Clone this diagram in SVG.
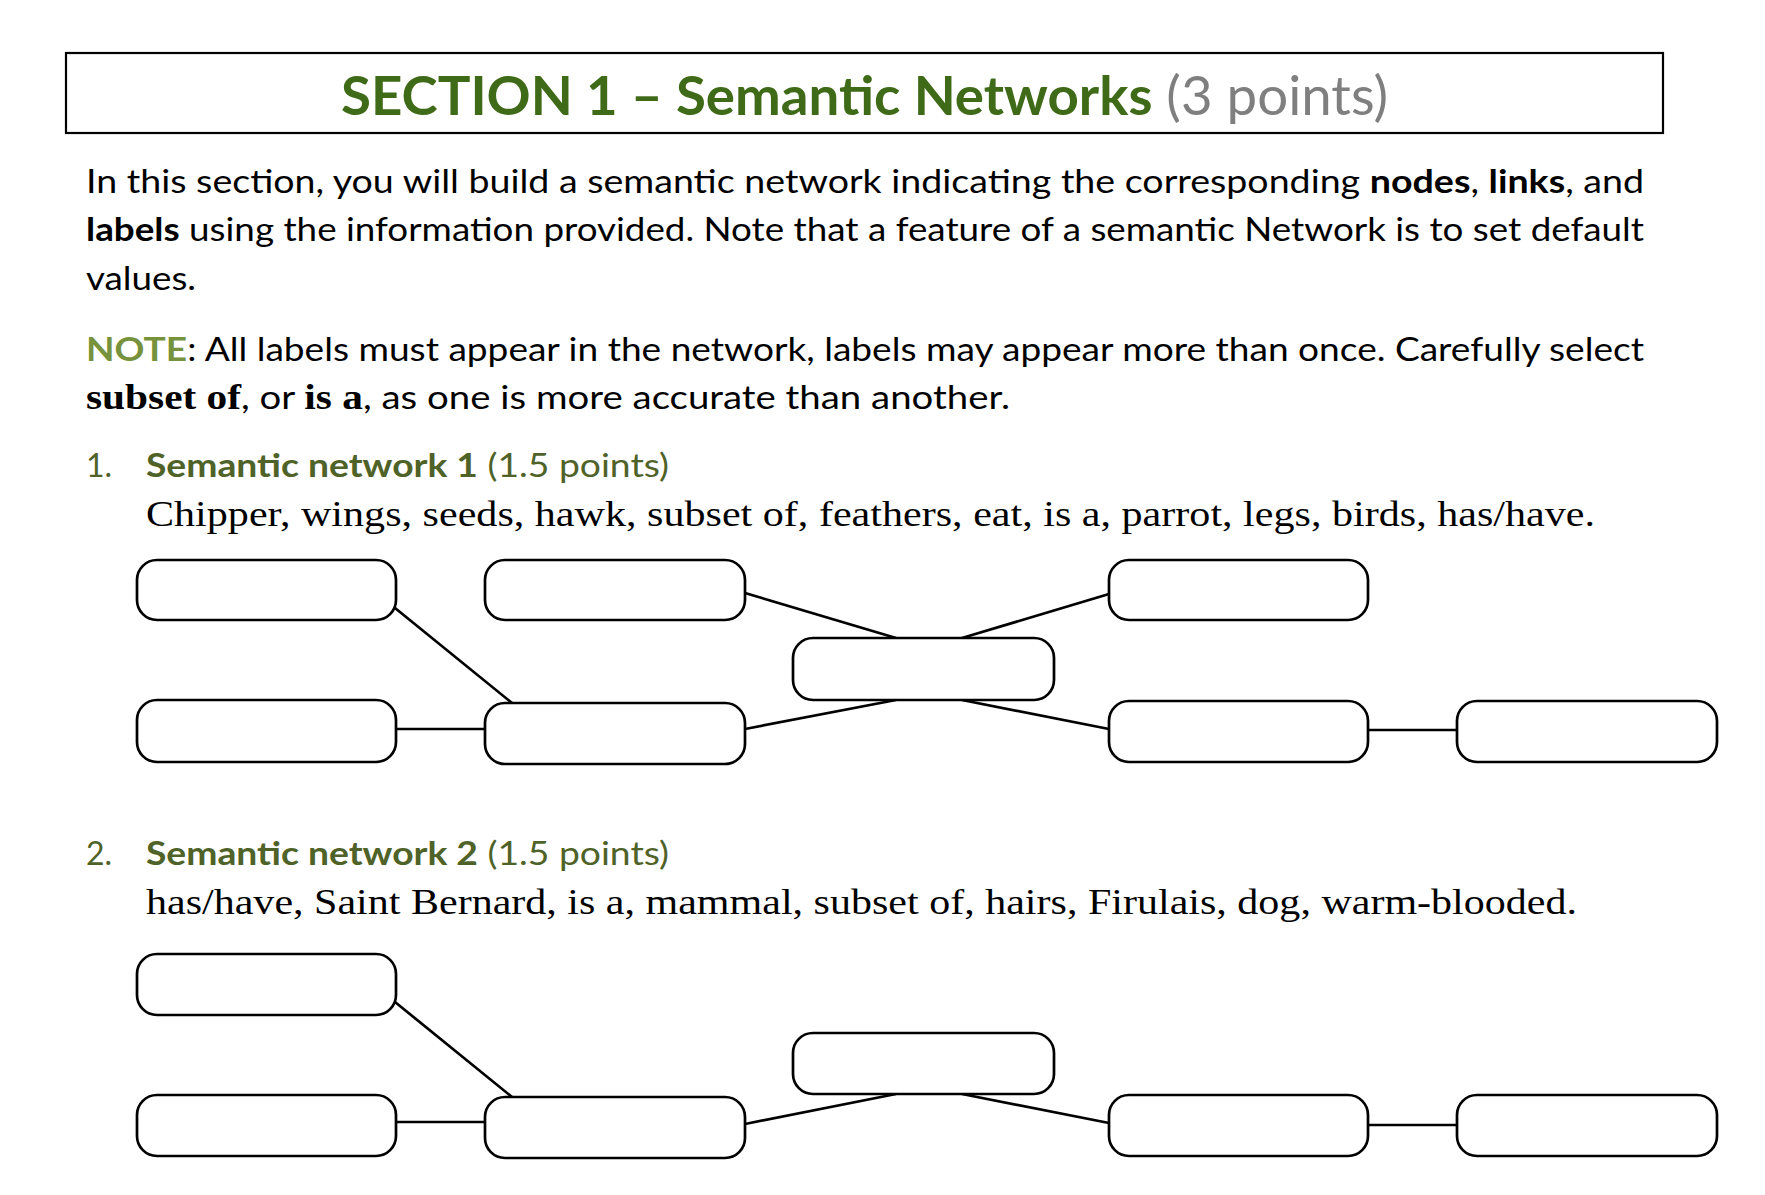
<svg xmlns="http://www.w3.org/2000/svg" width="1765" height="1195" viewBox="0 0 1765 1195">
<style>
.bg{fill:#ffffff}
.box{fill:#ffffff;stroke:#000;stroke-width:2.7}
.frame{fill:none;stroke:#000;stroke-width:2.2}
.ln{stroke:#000;stroke-width:2.7;fill:none}
.sans{font-family:Lato,"Liberation Sans",sans-serif;fill:#000}
.serif{font-family:"Liberation Serif",serif;fill:#000}
.b{font-weight:bold}
.title{font-family:Lato,"Liberation Sans",sans-serif;font-size:54px}
.tg{fill:#3F6A17;font-weight:bold}
.tgr{fill:#7F7F7F}
.note{fill:#76923C;font-weight:bold}
.hd{font-family:Lato,"Liberation Sans",sans-serif;font-size:32px;fill:#4F6228}
</style>
<rect class="bg" x="0" y="0" width="1765" height="1195"/>
<g id="header">
<rect class="frame" x="66" y="53" width="1597" height="80"/>
<text class="title" x="341" y="115" textLength="1047" lengthAdjust="spacingAndGlyphs"><tspan class="tg">SECTION 1 – Semantic Networks</tspan><tspan class="tgr"> (3 points)</tspan></text>
</g>
<g id="intro">
<text class="sans" x="86" y="193" font-size="32.5" textLength="1558" lengthAdjust="spacingAndGlyphs">In this section, you will build a semantic network indicating the corresponding <tspan class="b">nodes</tspan>, <tspan class="b">links</tspan>, and</text>
<text class="sans" x="86" y="241" font-size="32.5" textLength="1558" lengthAdjust="spacingAndGlyphs"><tspan class="b">labels</tspan> using the information provided. Note that a feature of a semantic Network is to set default</text>
<text class="sans" x="86" y="290" font-size="32.5" textLength="110" lengthAdjust="spacingAndGlyphs">values.</text>
<text class="sans" x="86" y="361" font-size="32.5" textLength="1558" lengthAdjust="spacingAndGlyphs"><tspan class="note">NOTE</tspan>: All labels must appear in the network, labels may appear more than once. Carefully select</text>
<text class="sans" x="86" y="409" font-size="32.5" textLength="924" lengthAdjust="spacingAndGlyphs"><tspan class="b" font-family="Liberation Serif, serif" font-size="35">subset of</tspan>, or <tspan class="b" font-family="Liberation Serif, serif" font-size="35">is a</tspan>, as one is more accurate than another.</text>
</g>
<g id="heading1">
<text class="hd" x="86" y="477">1.</text>
<text class="hd" x="146" y="477" textLength="523" lengthAdjust="spacingAndGlyphs"><tspan class="b">Semantic network 1</tspan> (1.5 points)</text>
<text class="serif" x="146" y="526" font-size="36" textLength="1449" lengthAdjust="spacingAndGlyphs">Chipper, wings, seeds, hawk, subset of, feathers, eat, is a, parrot, legs, birds, has/have.</text>
</g>
<g id="heading2">
<text class="hd" x="86" y="865">2.</text>
<text class="hd" x="146" y="865" textLength="523" lengthAdjust="spacingAndGlyphs"><tspan class="b">Semantic network 2</tspan> (1.5 points)</text>
<text class="serif" x="146" y="914" font-size="36" textLength="1431" lengthAdjust="spacingAndGlyphs">has/have, Saint Bernard, is a, mammal, subset of, hairs, Firulais, dog, warm-blooded.</text>
</g>
<g id="connectors">
<line class="ln" x1="395" y1="608" x2="512" y2="703"/>
<line class="ln" x1="396" y1="729" x2="485" y2="729"/>
<line class="ln" x1="745" y1="593" x2="896" y2="638"/>
<line class="ln" x1="745" y1="729" x2="896" y2="700"/>
<line class="ln" x1="962" y1="638" x2="1109" y2="594"/>
<line class="ln" x1="962" y1="700" x2="1109" y2="729"/>
<line class="ln" x1="1368" y1="730" x2="1457" y2="730"/>
<line class="ln" x1="395" y1="1002" x2="512" y2="1097"/>
<line class="ln" x1="396" y1="1122" x2="485" y2="1122"/>
<line class="ln" x1="745" y1="1124" x2="896" y2="1094"/>
<line class="ln" x1="962" y1="1094" x2="1109" y2="1123"/>
<line class="ln" x1="1368" y1="1125" x2="1457" y2="1125"/>
</g>
<g id="n1-a"><rect class="box" x="137" y="560" width="259" height="60" rx="20"/></g>
<g id="n1-b"><rect class="box" x="485" y="560" width="260" height="60" rx="20"/></g>
<g id="n1-e"><rect class="box" x="1109" y="560" width="259" height="60" rx="20"/></g>
<g id="n1-c"><rect class="box" x="793" y="638" width="261" height="62" rx="20"/></g>
<g id="n1-d"><rect class="box" x="137" y="700" width="259" height="62" rx="20"/></g>
<g id="n1-f"><rect class="box" x="485" y="703" width="260" height="61" rx="20"/></g>
<g id="n1-g"><rect class="box" x="1109" y="701" width="259" height="61" rx="20"/></g>
<g id="n1-h"><rect class="box" x="1457" y="701" width="260" height="61" rx="20"/></g>
<g id="n2-a"><rect class="box" x="137" y="954" width="259" height="61" rx="20"/></g>
<g id="n2-d"><rect class="box" x="137" y="1095" width="259" height="61" rx="20"/></g>
<g id="n2-f"><rect class="box" x="485" y="1097" width="260" height="61" rx="20"/></g>
<g id="n2-c"><rect class="box" x="793" y="1033" width="261" height="61" rx="20"/></g>
<g id="n2-g"><rect class="box" x="1109" y="1095" width="259" height="61" rx="20"/></g>
<g id="n2-h"><rect class="box" x="1457" y="1095" width="260" height="61" rx="20"/></g>
</svg>
